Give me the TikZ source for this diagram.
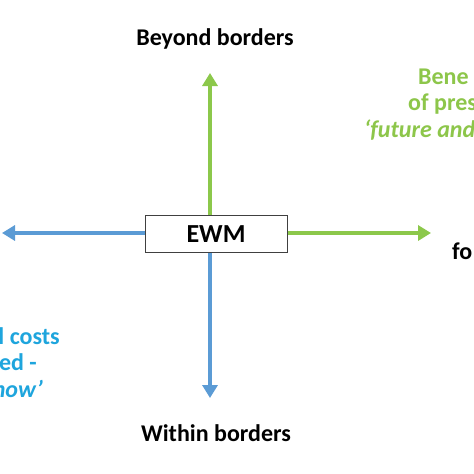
\documentclass[tikz,border=0pt]{standalone}
\usepackage{fontspec}
\setmainfont{Carlito}
\usetikzlibrary{arrows.meta}
\definecolor{ogreen}{HTML}{8CC84B}
\definecolor{oblue}{HTML}{5B9BD5}
\definecolor{tgreen}{HTML}{8DC64A}
\definecolor{tblue}{HTML}{1EA5DD}
\tikzset{
  axis/.style={line width=3.6pt,-{Triangle[length=13pt,width=15pt]}},
  lbl/.style={font=\fontsize{24}{28}\selectfont\bfseries,inner sep=0pt},
}
\begin{document}
\begin{tikzpicture}[x=1pt,y=-1pt]
\useasboundingbox (0,0) rectangle (474,474);
\clip (0,0) rectangle (474,474);
\fill[white] (0,0) rectangle (474,474);
\node[draw=black!75,line width=1pt,minimum width=142pt,minimum height=37pt,inner sep=0pt,font=\fontsize{26}{28}\selectfont\bfseries] (ewm) at (216,234) {EWM};
\coordinate (top) at (210,73);
\coordinate (bot) at (210,398);
\coordinate (lft) at (2,233);
\coordinate (rgt) at (431,233);
\draw[axis,draw=ogreen,fill=ogreen] (ewm.north -| top) -- (top);
\draw[axis,draw=oblue,fill=oblue] (ewm.south -| bot) -- (bot);
\draw[axis,draw=oblue,fill=oblue] (ewm.west |- lft) -- (lft);
\draw[axis,draw=ogreen,fill=ogreen] (ewm.east |- rgt) -- (rgt);
\node[lbl] (beyond) at (215,39) {Beyond borders};
\node[lbl] (within) at (216,433) {Within borders};
\node[lbl,anchor=west] (fo) at (452,251) {fo};
\node[lbl,anchor=west,text=tgreen] (g1) at (418,77) {Bene};
\node[lbl,anchor=west,text=tgreen] (g2) at (408,104) {of pres};
\node[lbl,anchor=west,text=tgreen] (g3) at (364,130) {\itshape\char"2018 future and};
\node[lbl,anchor=east,text=tblue] (b1) at (60,336) {l costs};
\node[lbl,anchor=east,text=tblue] (b2) at (37,362) {ed -};
\node[lbl,anchor=east,text=tblue] (b3) at (43,389) {\itshape now\char"2019};
\end{tikzpicture}
\end{document}
